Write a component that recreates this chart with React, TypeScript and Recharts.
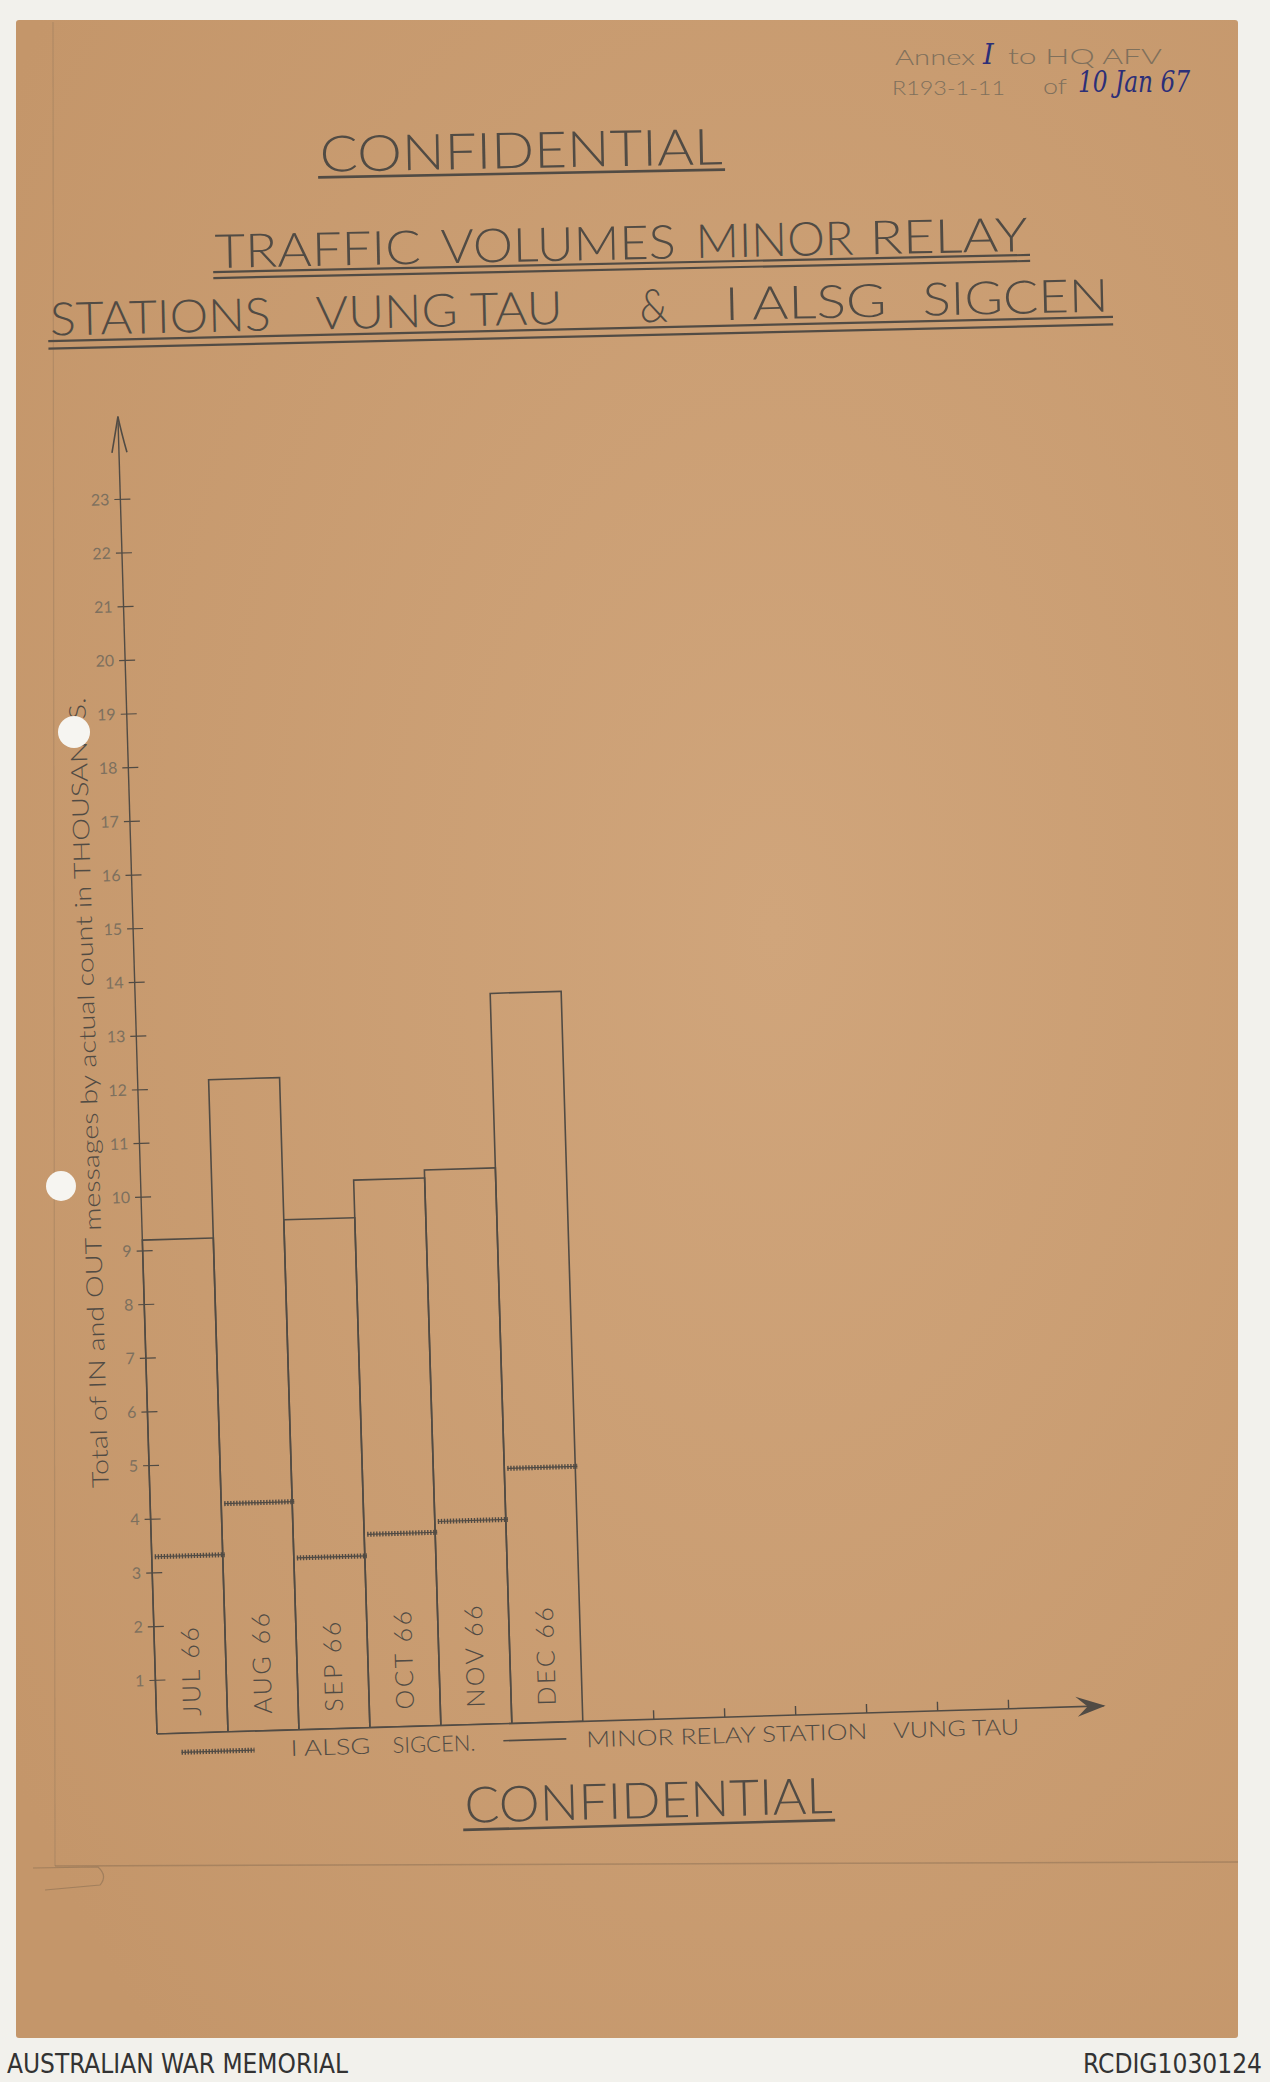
import React from "react";
import { BarChart, Bar, XAxis, YAxis } from "recharts";

// traffic in thousands of messages
const months = ["JUL 66", "AUG 66", "SEP 66", "OCT 66", "NOV 66", "DEC 66", "JAN 67", "FEB 67", "MAR 67", "APR 67", "MAY 67", "JUN 67"];
const relayStation = [9.2, 12.15, 9.5, 10.2, 10.35, 13.6, null, null, null, null, null, null];
const sigcen = [3.3, 4.25, 3.2, 3.6, 3.8, 4.75, null, null, null, null, null, null];
const yTicks = [1, 2, 3, 4, 5, 6, 7, 8, 9, 10, 11, 12, 13, 14, 15, 16, 17, 18, 19, 20, 21, 22, 23];
const yTop = 24.43;

const data = months.map((m, i) => ({ month: m, relay: relayStation[i], sigcen: sigcen[i] }));

const INK = "#514b44";
const TICK_INK = "#7d705e";
const FONT = "Lato, 'Open Sans', 'DejaVu Sans', sans-serif";
const BAND = 71;

function MonthTick(props: any) {
  const { x, y, payload } = props;
  const i = months.indexOf(payload.value);
  if (relayStation[i] != null) {
    const by = y - 17;
    return (
      <text x={x} y={by} dy={9} transform={`rotate(-90 ${x} ${by})`} textAnchor="start"
        fontSize={25} letterSpacing={2.5} fill={INK} fontFamily={FONT} fontWeight={300}>
        {payload.value}
      </text>
    );
  }
  return <line x1={x + BAND / 2} x2={x + BAND / 2} y1={y} y2={y - 9} stroke={INK} strokeWidth={1.4} />;
}

function CountTick(props: any) {
  const { x, y, payload } = props;
  return (
    <g>
      <line x1={x - 6} x2={x + 10} y1={y} y2={y} stroke={INK} strokeWidth={1.2} />
      <text x={x - 11} y={y} dy={5.5} textAnchor="end" fontSize={16} fill={TICK_INK} fontFamily={FONT}>
        {payload.value}
      </text>
    </g>
  );
}

function SigcenMark(props: any) {
  const { x, y, width, value } = props;
  if (value == null || y == null || isNaN(y)) return null;
  return (
    <g>
      <line x1={x + 3} x2={x + width + 2} y1={y} y2={y} stroke={INK} strokeWidth={1.2} />
      <line x1={x + 3} x2={x + width + 2} y1={y} y2={y} stroke={INK} strokeWidth={5} strokeDasharray="1.4 1.6" />
    </g>
  );
}

function Word({ x1, x2, y, size, children, fill = INK }: any) {
  return (
    <text x={x1} y={y} textLength={x2 - x1} lengthAdjust="spacingAndGlyphs" fontSize={size}
      fill={fill} fontFamily={FONT} fontWeight={300}>
      {children}
    </text>
  );
}

export default function App() {
  return (
    <div style={{ position: "absolute", left: 0, top: 0, width: 1270, height: 2082, background: "#f2f1ec", overflow: "hidden" }}>
      {/* paper */}
      <svg width={1270} height={2082} style={{ position: "absolute", left: 0, top: 0 }}>
        <defs>
          <radialGradient id="paper" cx="62%" cy="45%" r="75%">
            <stop offset="0%" stopColor="#d0a57b" />
            <stop offset="100%" stopColor="#c4966a" />
          </radialGradient>
        </defs>
        <rect x={16} y={20} width={1222} height={2018} fill="url(#paper)" rx={3} />
        <line x1={53} y1={22} x2={55} y2={1866} stroke="#8d7258" strokeOpacity={0.35} strokeWidth={1.2} />
        <line x1={55} y1={1866} x2={1238} y2={1862} stroke="#6f5c48" strokeOpacity={0.35} strokeWidth={1.5} />
        <path d="M33 1868 L98 1867 Q108 1876 100 1885 L45 1890" fill="none" stroke="#6f5c48" strokeOpacity={0.4} strokeWidth={1.2} />
      </svg>

      {/* chart, tilted like the drawing */}
      <div style={{ position: "absolute", left: 0, top: 380, width: 1120, height: 1384, transform: "rotate(-1.7deg)", transformOrigin: "157px 1354px" }}>
        <BarChart width={1120} height={1384} data={data} barCategoryGap={0} barGap={0}
          margin={{ top: 42, right: 16, bottom: 0, left: 0 }}>
          <XAxis xAxisId="main" dataKey="month" interval={0} height={30} tickLine={false} tickSize={0} tickMargin={0}
            tick={<MonthTick />} axisLine={{ stroke: INK, strokeWidth: 1.6 }} padding={{ left: 0, right: 95 }} />
          <XAxis xAxisId="sig" dataKey="month" hide padding={{ left: 0, right: 95 }} />
          <YAxis type="number" domain={[0, yTop]} ticks={yTicks} interval={0} width={157} allowDataOverflow
            tickLine={false} tickSize={0} tickMargin={0} tick={<CountTick />} axisLine={{ stroke: INK, strokeWidth: 1.4 }} />
          <Bar xAxisId="main" dataKey="relay" fill="none" stroke={INK} strokeWidth={1.6} isAnimationActive={false} />
          <Bar xAxisId="sig" dataKey="sigcen" shape={<SigcenMark />} isAnimationActive={false} />
        </BarChart>
        <svg width={1120} height={1384} style={{ position: "absolute", left: 0, top: 0, overflow: "visible", pointerEvents: "none" }}>
          {/* axis arrows */}
          <line x1={157} y1={42} x2={157} y2={36} stroke={INK} strokeWidth={1.4} />
          <path d="M150 72 Q154 52 157 36 Q160 52 165 72" fill="none" stroke={INK} strokeWidth={1.6} />
          <path d="M1106 1354 L1076 1344 L1088 1354 L1078 1364 Z" fill={INK} />
          {/* y axis title */}
          <text x={107} y={711} transform="rotate(-90 107 711)" textAnchor="middle" dominantBaseline="central"
            textLength={791} lengthAdjust="spacingAndGlyphs" fontSize={23} fill={INK} fontFamily={FONT} fontWeight={300}>
            Total of IN and OUT messages by actual count in THOUSANDS.
          </text>
          {/* legend */}
          <line x1={181} x2={254} y1={1373} y2={1373} stroke={INK} strokeWidth={1.2} />
          <line x1={181} x2={254} y1={1373} y2={1373} stroke={INK} strokeWidth={5} strokeDasharray="1.4 1.6" />
          <Word x1={290} x2={370} y={1380} size={22}>I ALSG</Word>
          <Word x1={392} x2={475} y={1380} size={22}>SIGCEN.</Word>
          <line x1={503} x2={566} y1={1371} y2={1371} stroke={INK} strokeWidth={1.6} />
          <Word x1={586} x2={867} y={1380} size={22}>MINOR RELAY STATION</Word>
          <Word x1={893} x2={1019} y={1380} size={22}>VUNG TAU</Word>
        </svg>
      </div>

      {/* titles, notes, footer */}
      <svg width={1270} height={2082} style={{ position: "absolute", left: 0, top: 0, pointerEvents: "none" }}>
        <g transform="rotate(-1.1 521 168)">
          <Word x1={320} x2={723} y={168} size={50}>CONFIDENTIAL</Word>
          <line x1={318} x2={725} y1={173.5} y2={173.5} stroke={INK} strokeWidth={2.6} />
        </g>
        <g transform="rotate(-1.2 621 259)">
          <Word x1={215} x2={421} y={259.5} size={47}>TRAFFIC</Word>
          <Word x1={441} x2={676} y={259.5} size={47}>VOLUMES</Word>
          <Word x1={696} x2={854} y={259.5} size={47}>MINOR</Word>
          <Word x1={870} x2={1028} y={259.5} size={47}>RELAY</Word>
          <line x1={213} x2={1030} y1={263.5} y2={263.5} stroke={INK} strokeWidth={2.2} />
          <line x1={213} x2={1030} y1={269.5} y2={269.5} stroke={INK} strokeWidth={2.2} />
        </g>
        <g transform="rotate(-1.3 580 323.5)">
          <Word x1={50} x2={271} y={323.5} size={46}>STATIONS</Word>
          <Word x1={316} x2={563} y={323.5} size={46}>VUNG TAU</Word>
          <Word x1={640} x2={668} y={323.5} size={46}>&amp;</Word>
          <Word x1={725} x2={887} y={323.5} size={46}>I ALSG</Word>
          <Word x1={923} x2={1109} y={323.5} size={46}>SIGCEN</Word>
          <line x1={48} x2={1113} y1={329} y2={329} stroke={INK} strokeWidth={2.2} />
          <line x1={48} x2={1113} y1={336.5} y2={336.5} stroke={INK} strokeWidth={2.2} />
        </g>
        <g transform="rotate(-1.5 649 1818)">
          <Word x1={465} x2={833} y={1818} size={50}>CONFIDENTIAL</Word>
          <line x1={463} x2={835} y1={1825} y2={1825} stroke={INK} strokeWidth={2.6} />
        </g>

        {/* annex note */}
        <Word x1={895} x2={975} y={65} size={21} fill="#7f705c">Annex</Word>
        <text x={983} y={64} fontSize={27} fontStyle="italic" fontFamily="'DejaVu Serif', serif" fill="#2c2f78">I</text>
        <Word x1={1008} x2={1162} y={64} size={22} fill="#7f705c">to HQ AFV</Word>
        <Word x1={892} x2={1005} y={95} size={19} fill="#7f705c">R193-1-11</Word>
        <Word x1={1043} x2={1067} y={94} size={21} fill="#7f705c">of</Word>
        <text x={1078} y={92} textLength={112} lengthAdjust="spacingAndGlyphs" fontSize={30} fontStyle="italic"
          fontFamily="'DejaVu Serif', serif" fill="#2c2f78">10 Jan 67</text>

        {/* punch holes */}
        <circle cx={74} cy={732} r={16} fill="#f6f5f1" />
        <circle cx={61} cy={1186} r={15} fill="#f6f5f1" />

        {/* archive footer */}
        <text x={7} y={2073} textLength={341} lengthAdjust="spacingAndGlyphs" fontSize={26}
          fontFamily="'Liberation Sans Narrow', 'DejaVu Sans Condensed', 'Open Sans', sans-serif" fill="#333">
          AUSTRALIAN WAR MEMORIAL
        </text>
        <text x={1083} y={2073} textLength={179} lengthAdjust="spacingAndGlyphs" fontSize={26}
          fontFamily="'Liberation Sans Narrow', 'DejaVu Sans Condensed', 'Open Sans', sans-serif" fill="#333">
          RCDIG1030124
        </text>
      </svg>
    </div>
  );
}
